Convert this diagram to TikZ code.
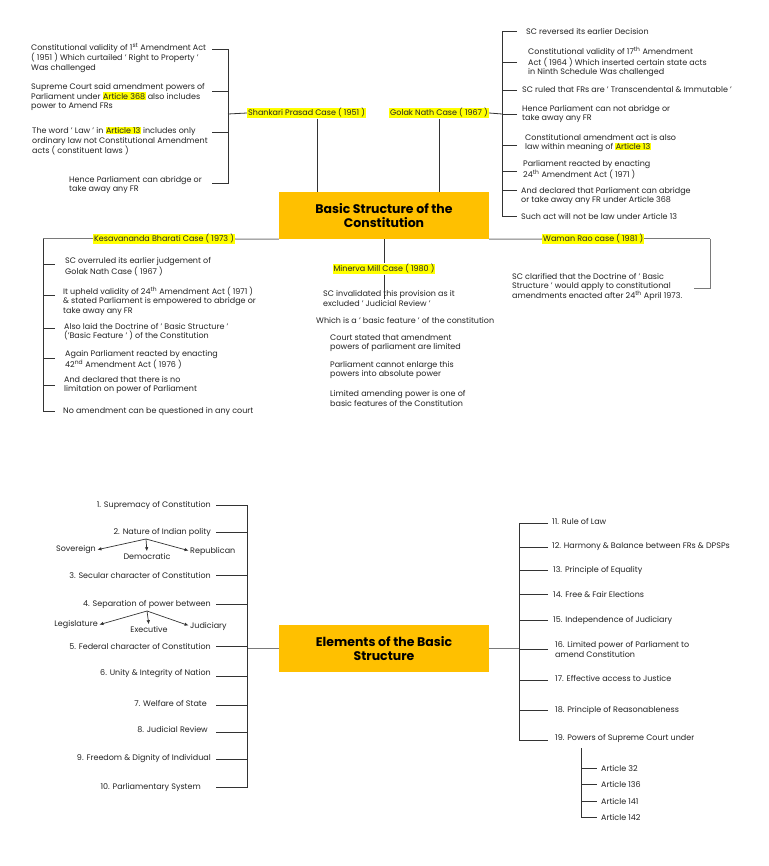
\documentclass[tikz,border=0pt]{standalone}
\usepackage{fontspec}
\setmainfont{Poppins}
\usepackage{xcolor}
\usetikzlibrary{positioning,arrows.meta,calc}
\definecolor{boxfill}{HTML}{FFC000}
\definecolor{hlyel}{HTML}{FFFF00}
\definecolor{ink}{HTML}{222222}
\definecolor{wire}{HTML}{333333}
\definecolor{link}{HTML}{7A7A7A}
\newcommand{\hlt}[1]{{\setlength{\fboxsep}{0.5pt}\colorbox{hlyel}{#1}}}
\newcommand{\sups}[1]{\textsuperscript{#1}}

\begin{document}
\begin{tikzpicture}[x=1pt, y=-1pt,
  font=\fontsize{8}{9.5}\selectfont,
  txt/.style={align=left, inner sep=0pt, text=ink, anchor=west},
  rtxt/.style={align=right, inner sep=0pt, text=ink, anchor=east},
  case/.style={fill=hlyel, inner sep=1pt, text=ink, anchor=west},
  topic/.style={fill=boxfill, minimum width=210pt, minimum height=47pt, align=center,
    font=\fontsize{12.5}{14}\selectfont\bfseries},
  br/.style={draw=wire, line width=0.8pt},
  ln/.style={draw=link, line width=1pt},
  ar/.style={-{Latex[length=4pt,width=3.5pt]}, draw=wire, line width=0.7pt, shorten >=1.5pt}
]
\useasboundingbox (0,0) rectangle (768,866);

% ---- top: basic structure
\node[topic] (bs) at (384,215.5) {Basic Structure of the\\Constitution};
\node[case] (sp) at (247,113) {Shankari Prasad Case ( 1951 )};
\node[case] (gn) at (389,113) {Golak Nath Case ( 1967 )};
\draw[br] ([xshift=11pt]sp.south) -- ([xshift=11pt]sp.south |- bs.north);
\draw[br] (gn.south) -- (gn.south |- bs.north);

% Shankari Prasad
\node[txt] (s1) at (31,58) {Constitutional validity of 1\sups{st} Amendment Act\\( 1951 ) Which curtailed ' Right to Property '\\Was challenged};
\node[txt] (s2) at (31,97) {Supreme Court said amendment powers of\\Parliament under \hlt{Article 368} also includes\\power to Amend FRs};
\node[txt] (s3) at (32,141) {The word ' Law ' in \hlt{Article 13} includes only\\ordinary law not Constitutional Amendment\\acts ( constituent laws )};
\node[txt] (s4) at (69,185) {Hence Parliament can abridge or\\take away any FR};
\coordinate (sptk) at (212,0);
\coordinate (spbar) at (228,114);
\draw[br] ([yshift=9pt]s1.east -| sptk) -- ([yshift=9pt]s1.east -| spbar) -- ([yshift=2pt]s4.east -| spbar) -- ([yshift=2pt]s4.east -| sptk);
\draw[br] ([yshift=6pt]s2.east -| sptk) -- ([yshift=6pt]s2.east -| spbar);
\draw[br] ([yshift=9pt]s3.east -| sptk) -- ([yshift=9pt]s3.east -| spbar);
\draw[br] (spbar) -- (sp.west);

% Golak Nath
\node[txt] (g1) at (526,31) {SC reversed its earlier Decision};
\node[txt] (g2) at (528,62) {Constitutional validity of 17\sups{th} Amendment\\Act ( 1964 ) Which inserted certain state acts\\in Ninth Schedule Was challenged};
\node[txt] (g3) at (522,90) {SC ruled that FRs are ' Transcendental \& Immutable '};
\node[txt] (g4) at (522,114) {Hence Parliament can not abridge or\\take away any FR};
\node[txt] (g5) at (525,143) {Constitutional amendment act is also\\law within meaning of \hlt{Article 13}};
\node[txt] (g6) at (523,169.5) {Parliament reacted by enacting\\24\sups{th} Amendment Act ( 1971 )};
\node[txt] (g7) at (521,196) {And declared that Parliament can abridge\\or take away any FR under Article 368};
\node[txt] (g8) at (521,216) {Such act will not be law under Article 13};
\coordinate (gntk) at (517,0);
\coordinate (gnbar) at (502,114);
\draw[br] (g1.west -| gntk) -- (g1.west -| gnbar) -- (g8.west -| gnbar) -- (g8.west -| gntk);
\draw[br] (g2.west -| gntk) -- (g2.west -| gnbar);
\draw[br] (g3.west -| gntk) -- (g3.west -| gnbar);
\draw[br] (g4.west -| gntk) -- (g4.west -| gnbar);
\draw[br] ([yshift=-2pt]g5.west -| gntk) -- ([yshift=-2pt]g5.west -| gnbar);
\draw[br] ([yshift=-1.5pt]g6.west -| gntk) -- ([yshift=-1.5pt]g6.west -| gnbar);
\draw[br] ([yshift=6pt]g7.west -| gntk) -- ([yshift=6pt]g7.west -| gnbar);
\draw[br] (gn.east) -- (gnbar);

% Kesavananda Bharati
\node[case] (kb) at (93,239) {Kesavananda Bharati Case ( 1973 )};
\coordinate (kbbar) at (43,239);
\coordinate (kbtk) at (55,0);
\draw[ln] (bs.south west) -- (kb.east);
\draw[ln] (kb.west) -- (kbbar);
\node[txt] (k1) at (65,267) {SC overruled its earlier judgement of\\Golak Nath Case ( 1967 )};
\node[txt] (k2) at (63,301) {It upheld validity of 24\sups{th} Amendment Act ( 1971 )\\\& stated Parliament is empowered to abridge or\\take away any FR};
\node[txt] (k3) at (64,331.5) {Also laid the Doctrine of ' Basic Structure '\\('Basic Feature ' ) of the Constitution};
\node[txt] (k4) at (65,359.5) {Again Parliament reacted by enacting\\42\sups{nd} Amendment Act ( 1976 )};
\node[txt] (k5) at (64,385) {And declared that there is no\\limitation on power of Parliament};
\node[txt] (k6) at (63,411) {No amendment can be questioned in any court};
\draw[br] (kbbar) -- (k6.west -| kbbar) -- (k6.west -| kbtk);
\draw[br] ([yshift=3pt]k1.west -| kbbar) -- ([yshift=3pt]k1.west -| kbtk);
\draw[br] ([yshift=6pt]k2.west -| kbbar) -- ([yshift=6pt]k2.west -| kbtk);
\draw[br] ([yshift=3.5pt]k3.west -| kbbar) -- ([yshift=3.5pt]k3.west -| kbtk);
\draw[br] ([yshift=1.5pt]k4.west -| kbbar) -- ([yshift=1.5pt]k4.west -| kbtk);
\draw[br] (k5.west -| kbbar) -- (k5.west -| kbtk);

% Waman Rao
\node[case] (wr) at (542,239) {Waman Rao case ( 1981 )};
\coordinate (wrbar) at (710,239);
\coordinate (wrtk) at (694,0);
\draw[ln] (bs.south east) -- (wr.west);
\draw[ln] (wr.east) -- (wrbar);
\node[txt] (w1) at (512,286.7) {SC clarified that the Doctrine of ' Basic\\Structure ' would apply to constitutional\\amendments enacted after 24\sups{th} April 1973.};
\draw[ln] (wrbar) -- ([yshift=-1.3pt]w1.east -| wrbar) -- ([yshift=-1.3pt]w1.east -| wrtk);

% Minerva Mill
\node[case, anchor=center] (mm) at (384,269) {Minerva Mill Case ( 1980 )};
\draw[br] (bs.south) -- (mm.north);
\node[txt] (m1) at (323,298.5) {SC invalidated this provision as it\\excluded ' Judicial Review '};
\node[txt] (m2) at (316,320) {Which is a ' basic feature ' of the constitution};
\node[txt] (m3) at (330,343) {Court stated that amendment\\powers of parliament are limited};
\node[txt] (m4) at (330,370) {Parliament cannot enlarge this\\powers into absolute power};
\node[txt] (m5) at (330,398.5) {Limited amending power is one of\\basic features of the Constitution};
\draw[br] (mm.south) -- (mm.south |- m1);

% ---- bottom: elements
\node[topic] (eb) at (384,648.5) {Elements of the Basic\\Structure};

\node[rtxt] (e1) at (211,505) {1. Supremacy of Constitution};
\node[rtxt] (e2) at (211,532) {2. Nature of Indian polity};
\node[rtxt] (e3) at (211,575) {3. Secular character of Constitution};
\node[rtxt] (e4) at (211,604) {4. Separation of power between};
\node[rtxt] (e5) at (211,646) {5. Federal character of Constitution};
\node[rtxt] (e6) at (211,674) {6. Unity \& Integrity of Nation};
\node[rtxt] (e7) at (207,703) {7. Welfare of State};
\node[rtxt] (e8) at (208,730) {8. Judicial Review};
\node[rtxt] (e9) at (211,759) {9. Freedom \& Dignity of Individual};
\node[rtxt] (e10) at (201,787) {10. Parliamentary System};
\coordinate (eltk) at (216,0);
\coordinate (elbar) at (247,648.5);
\draw[ln] (eb.west) -- (elbar);
\draw[br] (e1.east -| eltk) -- (e1.east -| elbar) -- (e10.east -| elbar) -- (e10.east -| eltk);
\draw[br] (e2.east -| eltk) -- (e2.east -| elbar);
\draw[br] (e3.east -| eltk) -- (e3.east -| elbar);
\draw[br] (e4.east -| eltk) -- (e4.east -| elbar);
\draw[br] (e5.east -| eltk) -- (e5.east -| elbar);
\draw[br] ([yshift=-2pt]e6.east -| eltk) -- ([yshift=-2pt]e6.east -| elbar);
\draw[br] ([yshift=-2pt]e7.east -| eltk) -- ([yshift=-2pt]e7.east -| elbar);
\draw[br] ([yshift=-2pt]e8.east -| eltk) -- ([yshift=-2pt]e8.east -| elbar);
\draw[br] (e9.east -| eltk) -- (e9.east -| elbar);

% nature of polity
\coordinate (e2j) at (146,539);
\node[rtxt] (sov) at (96,550) {Sovereign};
\node[text=ink, inner sep=0pt] (dem) at (147,556) {Democratic};
\node[txt] (rep) at (190,551) {Republican};
\draw[ar] (e2j) -- (sov.east);
\draw[ar] (e2j) -- (dem.north);
\draw[ar] (e2j) -- (rep.west);

% separation of power
\coordinate (e4j) at (147,611);
\node[rtxt] (leg) at (98,625) {Legislature};
\node[text=ink, inner sep=0pt] (exe) at (149,629) {Executive};
\node[txt] (jud) at (190,626) {Judiciary};
\draw[ar] (e4j) -- (leg.east);
\draw[ar] (e4j) -- (exe.north);
\draw[ar] (e4j) -- (jud.west);

\node[txt] (r1) at (552,521) {11. Rule of Law};
\node[txt] (r2) at (552,547) {12. Harmony \& Balance between FRs \& DPSPs};
\node[txt] (r3) at (553,570) {13. Principle of Equality};
\node[txt] (r4) at (553,594) {14. Free \& Fair Elections};
\node[txt] (r5) at (553,620) {15. Independence of Judiciary};
\node[txt] (r6) at (555,649.5) {16. Limited power of Parliament to\\amend Constitution};
\node[txt] (r7) at (555,678) {17. Effective access to Justice};
\node[txt] (r8) at (555,710) {18. Principle of Reasonableness};
\node[txt] (r9) at (555,738) {19. Powers of Supreme Court under};
\coordinate (ertk) at (548,0);
\coordinate (erbar) at (519,648.5);
\draw[ln] (eb.east) -- (erbar);
\draw[br] ([yshift=-2pt]r1.west -| ertk) -- ([yshift=-2pt]r1.west -| erbar) -- ([yshift=-2pt]r9.west -| erbar) -- ([yshift=-2pt]r9.west -| ertk);
\draw[br] (r2.west -| ertk) -- (r2.west -| erbar);
\draw[br] (r3.west -| ertk) -- (r3.west -| erbar);
\draw[br] (r4.west -| ertk) -- (r4.west -| erbar);
\draw[br] (r5.west -| ertk) -- (r5.west -| erbar);
\draw[br] (r6.west -| ertk) -- (r6.west -| erbar);
\draw[br] ([yshift=-2pt]r7.west -| ertk) -- ([yshift=-2pt]r7.west -| erbar);
\draw[br] (r8.west -| ertk) -- (r8.west -| erbar);

% articles
\node[txt] (a1) at (601,768) {Article 32};
\node[txt] (a2) at (601,784) {Article 136};
\node[txt] (a3) at (601,801) {Article 141};
\node[txt] (a4) at (601,817) {Article 142};
\coordinate (artbar) at (581,748);
\coordinate (arttk) at (597,0);
\draw[br] (artbar) -- (a4.west -| artbar) -- (a4.west -| arttk);
\draw[br] (a1.west -| artbar) -- (a1.west -| arttk);
\draw[br] (a2.west -| artbar) -- (a2.west -| arttk);
\draw[br] (a3.west -| artbar) -- (a3.west -| arttk);
\end{tikzpicture}
\end{document}
